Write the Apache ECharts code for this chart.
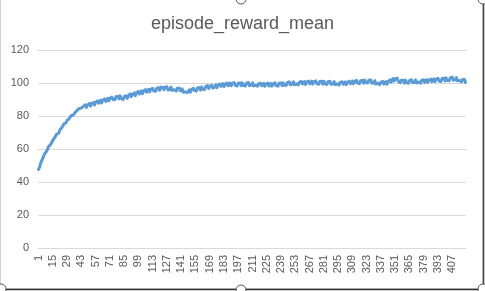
<!DOCTYPE html>
<html>
<head>
<meta charset="utf-8">
<script src="https://cdn.jsdelivr.net/npm/echarts@6/dist/echarts.min.js"></script>
<style>html,body{margin:0;padding:0;background:#fff;}#c{width:485px;height:291px;}</style>
</head>
<body>
<div id="c"></div>
<script>
var titleText = "episode_reward_mean";
var yTicks = [0, 20, 40, 60, 80, 100, 120];
var rewardMean = [
47.6, 48.9, 51.3, 51.5, 54.2, 54.3, 57.1, 56.4, 58.7, 59.0, 61.6, 60.7, 62.8, 63.2, 65.3, 64.4, 67.0, 67.1, 69.2, 68.5,
69.6, 71.7, 70.8, 73.0, 73.1, 75.2, 74.3, 75.9, 77.3, 76.3, 78.3, 78.1, 80.2, 79.1, 80.6, 79.9, 82.2, 81.9, 83.5, 82.3,
84.6, 83.5, 84.8, 83.8, 85.8, 85.2, 86.8, 85.2, 86.6, 86.0, 87.7, 86.0, 87.3, 86.9, 88.3, 86.6, 88.4, 87.8, 89.2, 87.7,
88.1, 89.6, 87.9, 89.5, 88.9, 90.4, 88.8, 89.9, 90.7, 89.2, 90.6, 89.9, 91.5, 90.0, 91.0, 89.9, 91.7, 90.9, 92.0, 90.4,
92.2, 90.6, 91.4, 90.0, 91.7, 90.8, 92.3, 90.7, 92.2, 91.6, 93.4, 91.7, 93.0, 92.6, 94.0, 92.3, 94.1, 93.4, 94.8, 93.3,
93.7, 95.2, 93.5, 95.1, 94.5, 96.0, 94.4, 95.4, 96.2, 94.6, 96.0, 95.2, 96.8, 95.2, 96.2, 95.0, 96.8, 96.0, 97.1, 95.5,
97.5, 96.3, 97.3, 95.9, 97.5, 96.5, 97.7, 95.8, 97.0, 96.0, 97.5, 95.5, 96.6, 95.9, 97.1, 95.1, 96.7, 95.8, 97.0, 95.3,
95.3, 96.4, 94.4, 95.6, 94.7, 95.9, 94.1, 95.1, 95.9, 94.4, 95.9, 95.2, 96.9, 95.4, 96.4, 95.2, 97.0, 96.2, 97.3, 95.7,
97.6, 96.2, 97.2, 96.0, 97.8, 97.0, 98.4, 96.6, 97.9, 97.1, 98.7, 96.9, 98.1, 97.6, 98.9, 97.1, 98.8, 98.1, 99.4, 97.9,
98.2, 99.6, 97.8, 99.3, 98.6, 100.0, 98.3, 99.2, 100.0, 98.3, 99.6, 98.7, 100.3, 98.6, 99.5, 98.2, 99.9, 99.0, 100.0, 98.3,
100.1, 98.6, 99.5, 98.2, 99.9, 99.0, 100.3, 98.4, 99.6, 98.7, 100.1, 98.2, 99.3, 98.7, 99.9, 98.0, 99.6, 98.8, 99.9, 98.3,
98.5, 99.8, 98.0, 99.3, 98.6, 99.9, 98.2, 99.1, 99.8, 98.1, 99.5, 98.6, 100.1, 98.4, 99.4, 98.1, 99.8, 99.0, 100.0, 98.4,
100.2, 98.8, 99.7, 98.5, 100.2, 99.4, 100.7, 98.9, 100.1, 99.3, 100.8, 98.9, 100.1, 99.5, 100.7, 98.9, 100.5, 99.7, 100.9, 99.4,
99.6, 100.9, 99.1, 100.6, 99.9, 101.2, 99.5, 100.4, 101.1, 99.4, 100.7, 99.8, 101.3, 99.6, 100.5, 99.2, 100.9, 100.0, 101.0, 99.3,
101.1, 99.6, 100.4, 99.1, 100.8, 99.8, 101.1, 99.2, 100.3, 99.4, 100.9, 99.0, 100.1, 99.5, 100.7, 98.8, 100.4, 99.6, 100.8, 99.2,
99.4, 100.7, 99.0, 100.4, 99.8, 101.1, 99.5, 100.4, 101.2, 99.5, 100.9, 100.0, 101.6, 99.9, 100.9, 99.6, 101.4, 100.5, 101.6, 99.9,
101.8, 100.4, 101.3, 100.0, 101.7, 100.7, 101.9, 99.9, 101.0, 100.0, 101.4, 99.4, 100.4, 99.8, 100.9, 99.0, 100.5, 99.7, 100.9, 99.3,
99.5, 100.9, 99.2, 100.8, 100.3, 101.9, 100.5, 101.7, 102.7, 101.2, 102.6, 101.6, 102.9, 101.0, 101.7, 100.2, 101.7, 100.7, 101.6, 99.9,
101.7, 100.2, 101.1, 99.8, 101.5, 100.6, 102.0, 100.1, 101.3, 100.4, 101.9, 100.1, 101.2, 100.6, 101.8, 99.9, 101.6, 100.8, 102.0, 100.4,
100.7, 102.0, 100.3, 101.7, 101.1, 102.4, 100.8, 101.7, 102.5, 100.8, 102.2, 101.3, 102.9, 101.2, 102.2, 100.9, 102.7, 101.8, 102.9, 101.2,
103.1, 101.6, 102.6, 101.3, 103.1, 102.2, 103.6, 101.7, 102.9, 101.9, 103.3, 101.3, 102.3, 101.6, 102.7, 100.7, 102.1, 101.1, 102.1, 100.3
];
var episodes = [];
for (var i = 0; i < rewardMean.length; i++) episodes.push(String(i + 1));

var chart = echarts.init(document.getElementById('c'), null, {renderer: 'canvas'});
chart.setOption({
  animation: false,
  backgroundColor: '#ffffff',
  title: {
    text: titleText,
    left: 'center',
    top: 10,
    textStyle: {color: '#595959', fontSize: 18, fontWeight: 'normal', fontFamily: 'Liberation Sans'}
  },
  grid: {left: 38, right: 19, top: 50, bottom: 43, containLabel: false},
  xAxis: {
    type: 'category',
    data: episodes,
    boundaryGap: true,
    axisLine: {show: true, lineStyle: {color: '#d9d9d9', width: 1}},
    axisTick: {show: false},
    axisLabel: {interval: 13, rotate: 90, color: '#595959', fontSize: 11, fontFamily: 'Liberation Sans', margin: 7},
    splitLine: {show: false}
  },
  yAxis: {
    type: 'value',
    min: yTicks[0],
    max: yTicks[yTicks.length - 1],
    interval: yTicks[1] - yTicks[0],
    axisLine: {show: false},
    axisTick: {show: false},
    axisLabel: {color: '#595959', fontSize: 11, fontFamily: 'Liberation Sans', margin: 9},
    splitLine: {lineStyle: {color: '#d9d9d9', width: 1}}
  },
  series: [{
    type: 'line',
    data: rewardMean,
    showSymbol: false,
    symbol: 'none',
    lineStyle: {color: '#5b9bd5', width: 3, cap: 'round', join: 'round'},
    itemStyle: {color: '#5b9bd5'}
  }],
  graphic: [
    {type: 'rect', shape: {x: 0.5, y: -4, width: 482, height: 292.5, r: 4}, style: {fill: 'none', stroke: '#d0d0d0', lineWidth: 1}, silent: true},
    {type: 'line', shape: {x1: 483.5, y1: 4, x2: 483.5, y2: 291}, style: {stroke: '#444', lineWidth: 1.5}, silent: true},
    {type: 'line', shape: {x1: 6, y1: 289.5, x2: 478, y2: 289.5}, style: {stroke: '#333', lineWidth: 1.5}, silent: true},
    {type: 'circle', shape: {cx: 241, cy: -1, r: 5}, style: {fill: '#fff', stroke: '#555', lineWidth: 1}, silent: true},
    {type: 'circle', shape: {cx: 241, cy: 290, r: 5}, style: {fill: '#fff', stroke: '#555', lineWidth: 1}, silent: true},
    {type: 'circle', shape: {cx: 1, cy: 289, r: 5}, style: {fill: '#fff', stroke: '#555', lineWidth: 1}, silent: true},
    {type: 'circle', shape: {cx: 483, cy: -1, r: 5}, style: {fill: '#fff', stroke: '#555', lineWidth: 1}, silent: true},
    {type: 'circle', shape: {cx: 483, cy: 289, r: 5}, style: {fill: '#fff', stroke: '#555', lineWidth: 1}, silent: true}
  ]
});
</script>
</body>
</html>
